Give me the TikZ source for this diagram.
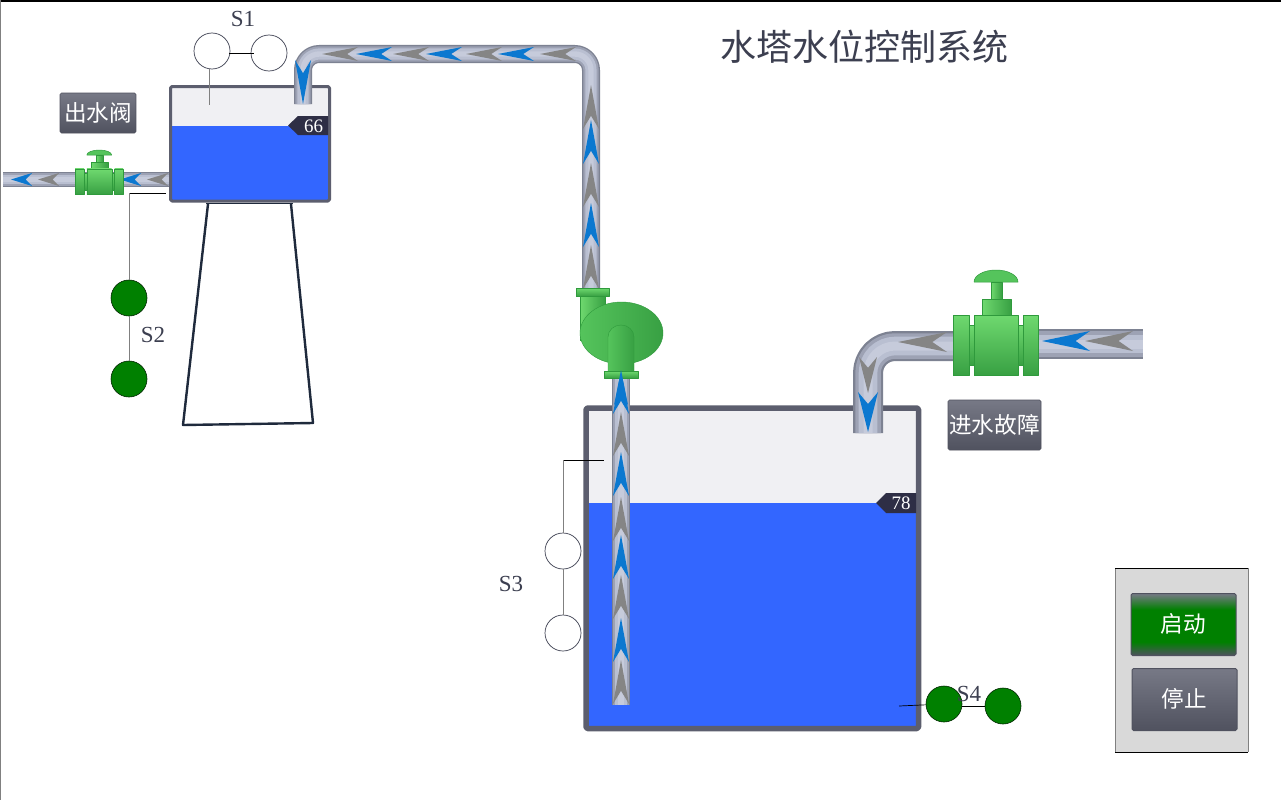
\documentclass[tikz,border=0pt]{standalone}
\usepackage{fontspec}
\setmainfont{Liberation Serif}
\newfontfamily\cjk{Noto Sans CJK SC}
\definecolor{tankedge}{HTML}{5C5E6E}
\definecolor{tankair}{HTML}{F0F0F3}
\definecolor{water}{HTML}{3366FF}
\definecolor{badge}{HTML}{2E2E45}
\definecolor{flow}{HTML}{0B78D0}
\definecolor{idle}{HTML}{858585}
\definecolor{pipeA}{HTML}{7D8292}
\definecolor{pipeB}{HTML}{9DA2B4}
\definecolor{pipeC}{HTML}{B9BFD1}
\definecolor{pipeD}{HTML}{C6CBDB}
\definecolor{gLight}{HTML}{6FD96F}
\definecolor{gMid}{HTML}{55C45C}
\definecolor{gDark}{HTML}{38A043}
\definecolor{gEdge}{HTML}{2F9A3C}
\definecolor{btnT}{HTML}{777986}
\definecolor{btnB}{HTML}{50525F}
\definecolor{ink}{HTML}{3C3F50}
\definecolor{sensor}{HTML}{008000}
\definecolor{towerline}{HTML}{1F2A3C}
\pgfdeclareverticalshading{greenbtn}{100bp}{color(0bp)=(btnB);color(25bp)=(btnB);color(36bp)=(sensor);color(62bp)=(sensor);color(75bp)=(btnT);color(100bp)=(btnT)}
\newcommand{\pipepath}[2]{%
  \path[draw=pipeA,line width=#1pt,rounded corners=#1*0.9pt] #2;
  \path[draw=pipeB,line width=0.85*#1pt,rounded corners=#1*0.9pt] #2;
  \path[draw=pipeC,line width=0.62*#1pt,rounded corners=#1*0.9pt] #2;
  \path[draw=pipeD,line width=0.3*#1pt,rounded corners=#1*0.9pt] #2;
}
% chevrons: tip x, tip y, length, half width, colour
\newcommand{\chevL}[5]{\fill[#5] (#1,#2) -- ({#1+#3},{#2-#4}) -- ({#1+0.7*#3},#2) -- ({#1+#3},{#2+#4}) -- cycle;}
\newcommand{\chevU}[5]{\fill[#5] (#1,#2) -- ({#1-#4},{#2+#3}) -- (#1,{#2+0.7*#3}) -- ({#1+#4},{#2+#3}) -- cycle;}
\newcommand{\chevD}[5]{\fill[#5] (#1,#2) -- ({#1-#4},{#2-#3}) -- (#1,{#2-0.7*#3}) -- ({#1+#4},{#2-#3}) -- cycle;}
\newcommand{\valve}[4]{%
  \begin{scope}[shift={(#1,#2)},xscale=#3,yscale=#4]
    \path[fill=gMid,draw=gEdge,line width=.5pt] (21,12) arc[start angle=180,end angle=360,x radius=22,y radius=12] -- cycle;
    \path[shade,left color=gLight,right color=gDark,draw=gEdge,line width=.3pt] (38,12) rectangle (49,29);
    \path[shade,left color=gLight,right color=gDark,draw=gEdge,line width=.3pt] (29,29) rectangle (58,52);
    \path[shade,top color=gLight,bottom color=gDark,draw=gEdge,line width=.3pt] (16,55) rectangle (70,95);
    \path[shade,top color=gLight,bottom color=gDark,draw=gEdge,line width=.3pt] (21,45) rectangle (65,105);
    \path[shade,top color=gLight,bottom color=gDark,draw=gEdge,line width=.3pt] (0,45) rectangle (16,105);
    \path[shade,top color=gLight,bottom color=gDark,draw=gEdge,line width=.3pt] (70,45) rectangle (85,105);
  \end{scope}}
\tikzset{
  tankwall/.style={draw=tankedge,rounded corners=1.5pt},
  sensoropen/.style={circle,draw=ink,fill=white,line width=.7pt,minimum size=36pt,inner sep=0pt},
  sensorgreen/.style={circle,draw=black!70!sensor,fill=sensor,line width=.6pt,minimum size=36pt,inner sep=0pt},
  sensorlabel/.style={font=\fontsize{23}{25}\selectfont,text=ink,inner sep=0pt},
  probe/.style={draw=black,line width=.7pt},
  probegray/.style={draw=gray,line width=1pt},
  badgetext/.style={font=\fontsize{19}{21}\selectfont,text=white,inner sep=0pt},
  btnlabel/.style={font=\cjk\fontsize{22.6}{25}\selectfont,text=white,inner sep=0pt},
  tag/.style={shade,top color=btnT,bottom color=btnB,draw=btnB,line width=.6pt,rounded corners=1.5pt},
}
\begin{document}
\begin{tikzpicture}[x=1pt,y=-1pt,line join=round]
\useasboundingbox (0,0) rectangle (1281,800);
\fill[white] (0,0) rectangle (1281,800);
\fill[black] (0,0) rectangle (1281,2.5);
\fill[gray] (0,0) rectangle (1,800);

% title
\node[font=\cjk\fontsize{36}{39}\selectfont,text=ink,inner sep=0pt] (title) at (864.5,47) {水塔水位控制系统};

% outlet pipe
\pipepath{15}{(3,179.5) -- (169,179.5)}
\chevL{11}{179.5}{21}{6.5}{flow}
\chevL{38}{179.5}{21}{6.5}{idle}
\chevL{120}{179.5}{21}{6.5}{flow}
\chevL{147}{179.5}{21}{6.5}{idle}
\valve{75}{150}{0.565}{0.42}

% elevated tank
\path[fill=tankair] (171,87) rectangle (329,126);
\path[fill=water] (171,126) rectangle (329,200.5);
\path[tankwall,line width=3pt] (170.5,86.5) rectangle (329.5,201);
\fill[badge] (288,125.5) -- (298,116) -- (328,116) -- (328,135) -- (298,135) -- cycle;
\node[badgetext] (lvlA) at (313.5,126) {66};

% tower
\path[draw=towerline,line width=2.4pt] (208,204) -- (183,425) -- (313,423) -- (291,204);
\path[draw=towerline,line width=1.5pt] (206,203.5) -- (293,203.5);

% S1
\node[sensoropen] (s1a) at (212,51) {};
\node[sensoropen] (s1b) at (269,53) {};
\coordinate (s1probe) at (209,105);
\draw[probe] (229,53) -- (254,53);
\draw[probegray] (209,69) -- (s1probe);
\node[sensorlabel] (s1t) at (243,19) {S1};

% upper pipe
\pipepath{18}{(303,104) -- (303,54) -- (591,54) -- (591,292)}
\chevD{303}{104}{44}{8}{flow}
\foreach \x/\c in {322/idle,356/flow,393/idle,426/flow,466/idle,498/flow,540/idle}{\chevL{\x}{54}{36}{7}{\c}}
\foreach \y/\c in {85/idle,120/flow,163/idle,203/flow,245/idle}{\chevU{591}{\y}{44}{8}{\c}}

% main tank
\path[fill=tankair] (586,408) rectangle (918,503);
\path[fill=water] (586,503) rectangle (918,728);
\path[tankwall,line width=5.5pt] (586,408) rectangle (918.5,728.5);
\fill[badge] (876,503) -- (886,493) -- (916,493) -- (916,513) -- (886,513) -- cycle;
\node[badgetext] (lvlB) at (901,503) {78};

% lower pipe
\pipepath{18}{(621,370) -- (621,705)}
\foreach \y/\c in {370/flow,412/idle,452/flow,497/idle,535/flow,575/idle,618/flow,660/idle}{\chevU{621}{\y}{44}{8}{\c}}

% pump
\path[shade,left color=gLight,right color=gDark,draw=gEdge,line width=.4pt] (580,296) -- (605,296) -- (605,340) -- (580,340) -- cycle;
\path[shade,top color=gLight,bottom color=gDark,draw=gEdge,line width=.4pt] (576,288) rectangle (609,296);
\path[shade,left color=gMid,right color=gDark,draw=gEdge,line width=.4pt] (621.5,333) ellipse [x radius=41.5,y radius=31];
\path[shade,left color=gMid,middle color=gLight,right color=gDark,draw=gEdge,line width=.4pt] (608,372) -- (608,337) arc[start angle=180,end angle=360,x radius=13,y radius=12] -- (634,372) -- cycle;
\path[shade,top color=gLight,bottom color=gDark,draw=gEdge,line width=.4pt] (604.5,371) rectangle (638,378);
\chevU{621}{370}{35}{7}{flow}

% inlet pipe
\pipepath{30}{(868,433) -- (868,346) -- (960,346)}
\pipepath{30}{(1030,344) -- (1143,344)}
\chevD{868}{393}{36}{9}{idle}
\chevD{868}{432}{40}{10}{flow}
\chevL{898}{342}{49}{10}{idle}
\chevL{1085}{341}{48}{10}{idle}
\chevL{1042}{341}{48}{10}{flow}
\valve{953}{270}{1}{1}

% tags
\node[tag,minimum width=76pt,minimum height=40pt,inner sep=0pt] (tagA) at (98,113) {};
\node[btnlabel] at (tagA) {出水阀};
\node[tag,minimum width=93pt,minimum height=50pt,inner sep=0pt] (tagB) at (994.5,425) {};
\node[btnlabel] at (tagB) {进水故障};

% S2
\node[sensorgreen] (s2a) at (129,298) {};
\node[sensorgreen] (s2b) at (129,379) {};
\coordinate (s2top) at (129,193);
\coordinate (s2end) at (166,193);
\draw[probe] (s2top) -- (s2end);
\draw[probegray] (s2top) -- (s2a);
\draw[probegray] (s2a) -- (s2b);
\node[sensorlabel] (s2t) at (153,335) {S2};

% S3
\node[sensoropen] (s3a) at (563,551) {};
\node[sensoropen] (s3b) at (563,633) {};
\coordinate (s3top) at (563,460);
\coordinate (s3end) at (604,460);
\draw[probe] (s3top) -- (s3end);
\draw[probegray] (s3top) -- (s3a);
\draw[probegray] (s3a) -- (s3b);
\node[sensorlabel] (s3t) at (511,584) {S3};

% S4
\coordinate (s4start) at (899,706);
\node[sensorgreen] (s4a) at (944,704) {};
\node[sensorgreen] (s4b) at (1003,706) {};
\draw[probe] (s4start) -- (s4a);
\draw[probe] (962,706) -- (s4b);
\node[sensorlabel] (s4t) at (969,694) {S4};

% control panel
\path[fill=black!15] (1115,568.5) rectangle (1248,752);
\draw[gray,line width=1pt] (1115,568) -- (1115,752) (1248,568) -- (1248,752);
\draw[black,line width=.8pt] (1115,568.5) -- (1248,568.5) (1115,752) -- (1248,752);
\path[shading=greenbtn,draw=btnB,line width=1pt,rounded corners=1.5pt] (1131,593.5) rectangle (1236,655.5);
\node[btnlabel] (start) at (1183.5,624) {启动};
\path[tag,draw=btnB,line width=1pt] (1132,668.5) rectangle (1237,730.5);
\node[btnlabel] (stop) at (1184.5,699) {停止};
\end{tikzpicture}
\end{document}
